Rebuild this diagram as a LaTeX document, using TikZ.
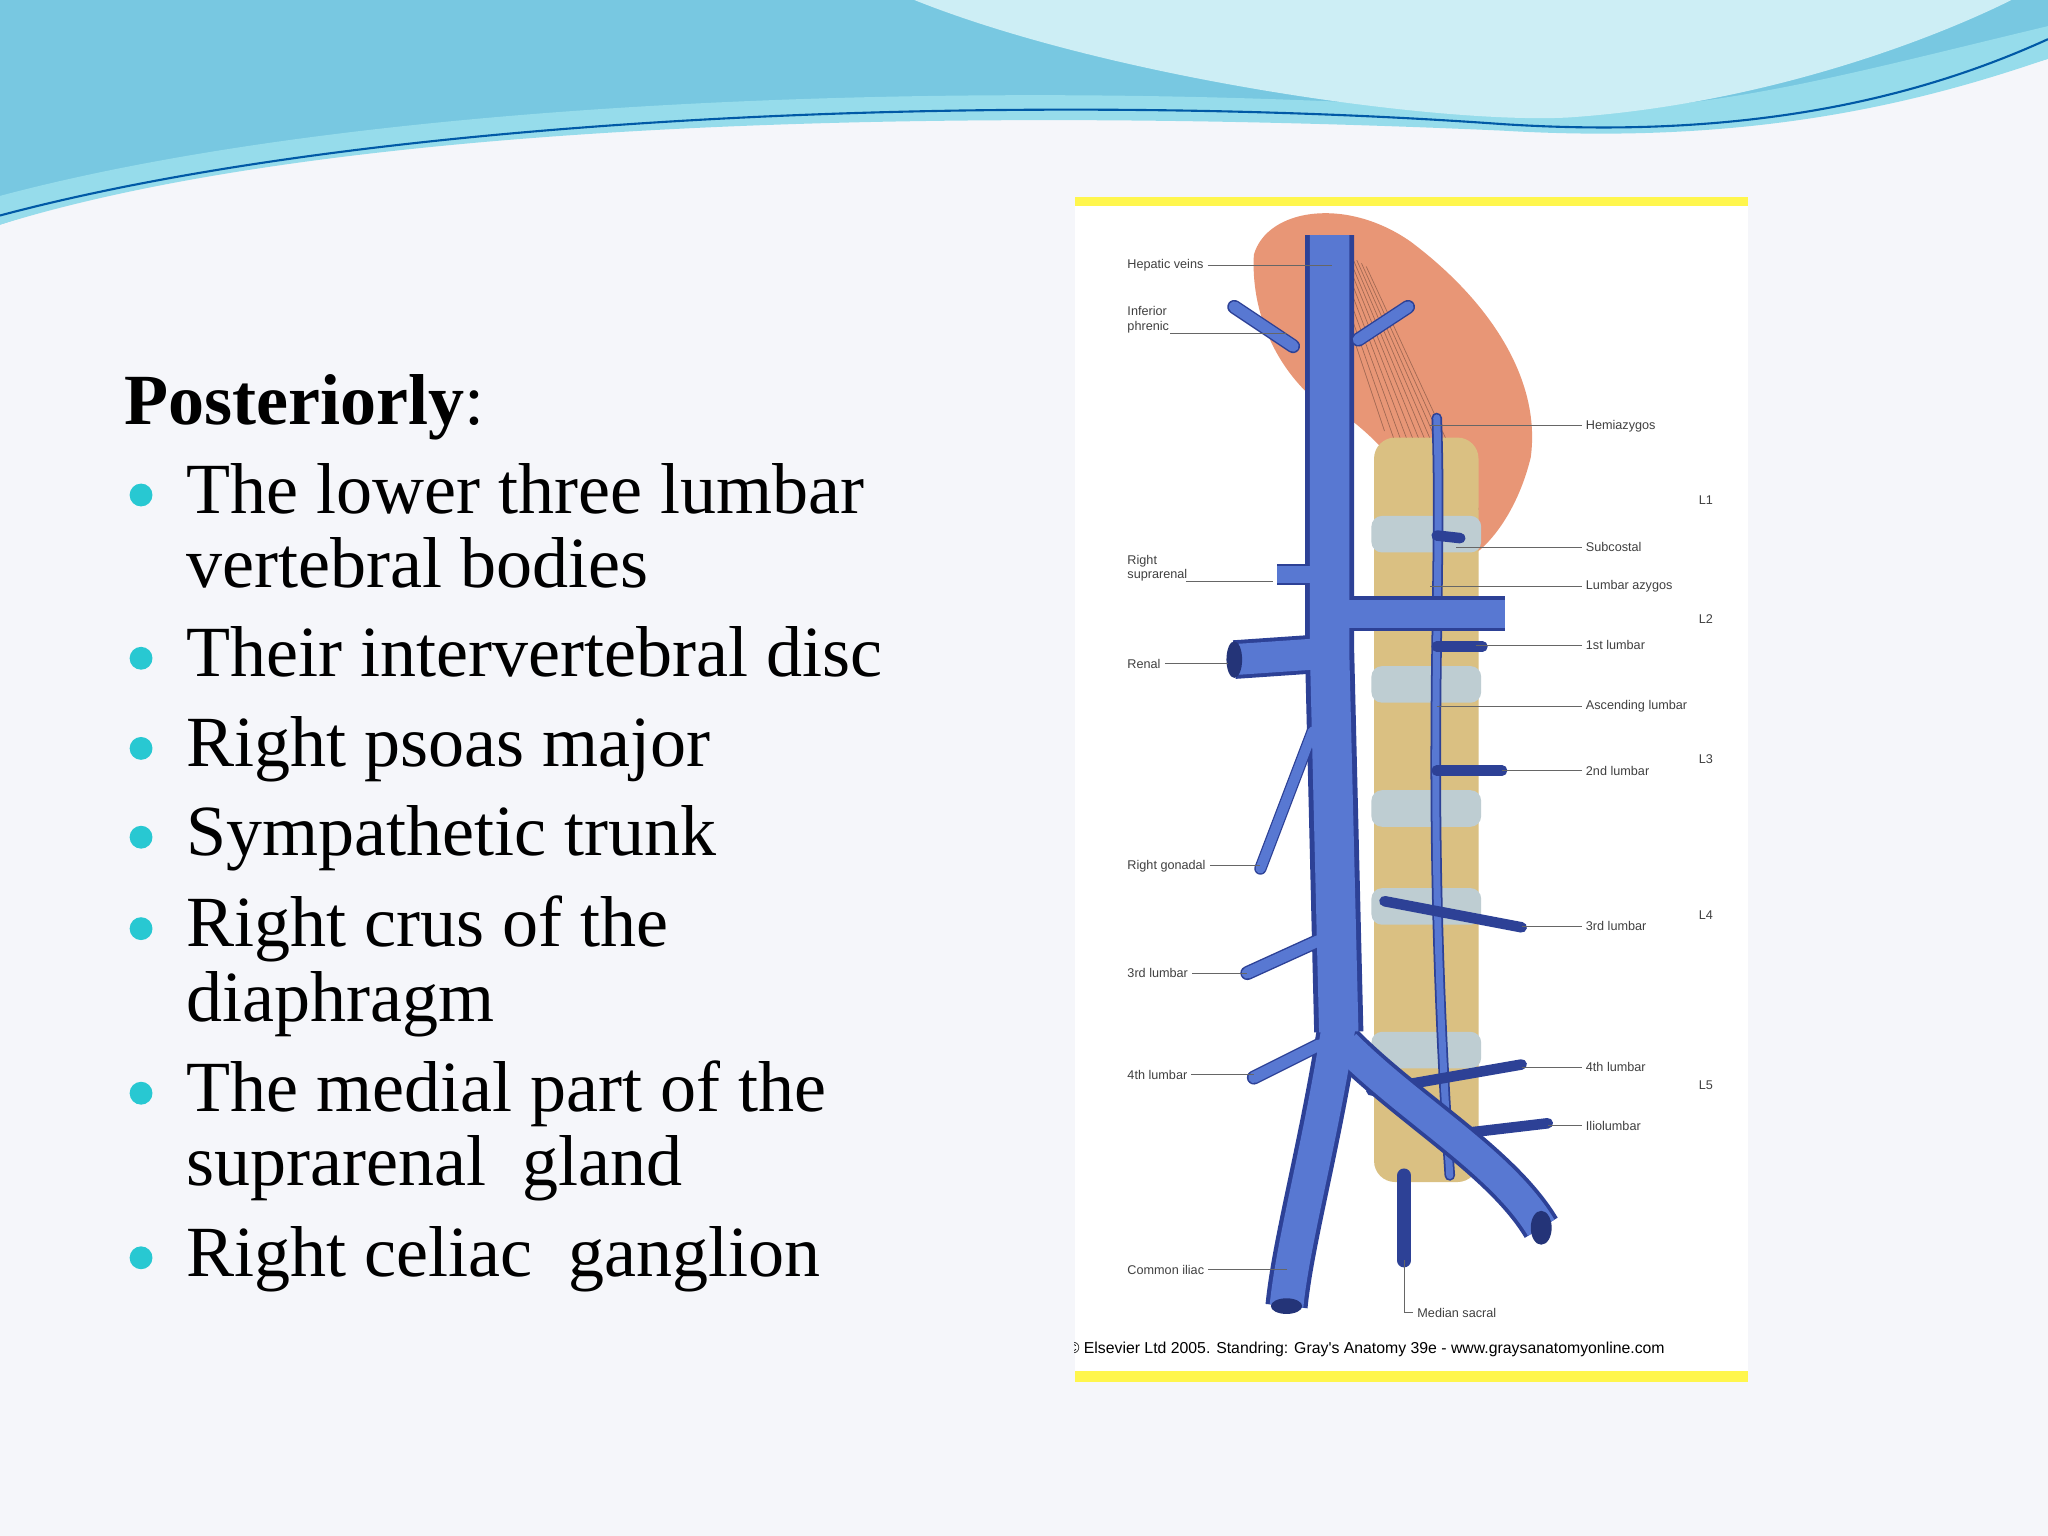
\documentclass[tikz,border=0pt]{standalone}
\usepackage{fontspec}
\setmainfont{Liberation Serif}
\newfontfamily\lab{Liberation Sans}
\begin{document}
\begin{tikzpicture}[x=0.01306cm,y=-0.01306cm,
  txt/.style={anchor=base west,inner sep=0,font=\fontsize{20.5}{22}\selectfont},
  bul/.style={circle,fill=bulc,inner sep=0,minimum size=6.5pt},
  lbl/.style={inner sep=1pt,font=\lab\fontsize{3.6}{4.2}\selectfont,text=black!75,align=left},
  lead/.style={black!60,line width=0.3pt},
  vout/.style={line width=#1,draw=veinD,line cap=round},
  vin/.style={line width=#1,draw=vein,line cap=round}]
\definecolor{bg}{RGB}{245,246,250}
\definecolor{bulc}{RGB}{40,200,210}
\definecolor{vein}{RGB}{88,120,210}
\definecolor{veinD}{RGB}{45,65,150}
\definecolor{musc}{RGB}{232,150,118}
\definecolor{bone}{RGB}{218,192,130}
\definecolor{disc}{RGB}{190,205,210}
\definecolor{waveA}{RGB}{120,200,225}
\definecolor{waveB}{RGB}{150,220,235}
\definecolor{waveC}{RGB}{205,238,245}
\useasboundingbox (0,0) rectangle (1568,1176);
\fill[bg] (0,0) rectangle (1568,1176);
% top wave
\fill[waveA] (0,0) -- (0,172) .. controls (250,90) and (700,60) .. (1150,95) .. controls (1350,110) and (1480,70) .. (1568,45) -- (1568,0) -- cycle;
\fill[waveB] (0,172) .. controls (250,95) and (700,80) .. (1150,100) .. controls (1350,112) and (1480,75) .. (1568,45) -- (1568,20) .. controls (1400,60) and (1300,90) .. (1150,85) .. controls (800,60) and (300,70) .. (0,150) -- cycle;
\fill[waveC] (700,0) .. controls (850,60) and (1100,95) .. (1200,90) .. controls (1350,80) and (1480,30) .. (1540,0) -- cycle;
\draw[teal!70!blue,line width=0.6pt] (0,165) .. controls (300,85) and (800,70) .. (1150,95) .. controls (1350,108) and (1480,70) .. (1568,30);
% text
\node[txt] (h) at (95,325) {\textbf{Posteriorly}:};
\foreach \y/\t [count=\i] in {393/The lower three lumbar,450/vertebral bodies,518/Their intervertebral disc,587/Right psoas major,655/Sympathetic trunk,725/Right crus of the,782/diaphragm,851/The medial part of the,908/suprarenal\ \ gland,977/Right celiac\ \ ganglion}
  \node[txt] (t\i) at (142,\y) {\t};
\foreach \y [count=\i] in {379,504,573,641,711,837,963}
  \node[bul] (b\i) at (108,\y) {};
% image frame
\fill[white] (823,151) rectangle (1338,1058);
\fill[yellow!70!white] (823,151) rectangle (1338,158);
\fill[yellow!70!white] (823,1050) rectangle (1338,1058);
% diaphragm
\fill[musc] (960,195) .. controls (970,160) and (1030,150) .. (1080,185) .. controls (1140,230) and (1180,290) .. (1172,350) .. controls (1160,400) and (1130,430) .. (1115,430) .. controls (1090,380) and (1060,330) .. (1000,300) .. controls (970,270) and (958,230) .. (960,195) -- cycle;
\foreach \a in {0,12,...,120} \draw[musc!70!black,line width=0.2pt] (1010+\a*0.3,180+\a*0.2) -- (1060+\a*0.6,330+\a*0.5);
% vertebrae
\fill[bone,rounded corners=6] (1052,335) rectangle (1132,905);
\foreach \y in {395,510,605,680,790} \fill[disc,rounded corners=3] (1050,\y) rectangle (1134,\y+28);
% small vessels
\draw[vout=3pt] (1100,320) .. controls (1105,450) and (1090,600) .. (1110,900);
\draw[vin=2pt] (1100,320) .. controls (1105,450) and (1090,600) .. (1110,900);
\draw[vout=3pt] (1060,690) -- (1165,710);
\draw[vout=3pt] (1050,835) -- (1165,815);
\draw[vout=3pt] (1100,870) -- (1185,860);
\draw[vout=3pt] (1100,590) -- (1150,590);
\draw[vout=3pt] (1100,495) -- (1135,495);
\draw[vout=3pt] (1100,410) -- (1118,412);
\draw[vout=4pt] (1075,900) -- (1075,965);
% IVC
\foreach \s/\c in {1/veinD,0.8/vein}{
 \draw[line width=\s*14pt,draw=\c,line join=round] (1018,180) -- (1018,500) -- (1025,790);
 \draw[line width=\s*12pt,draw=\c] (1025,785) .. controls (1010,880) and (990,950) .. (985,1000);
 \draw[line width=\s*11pt,draw=\c] (1030,800) .. controls (1080,850) and (1150,890) .. (1180,940);
 \draw[line width=\s*11pt,draw=\c] (945,505) -- (1018,500);
 \draw[line width=\s*10pt,draw=\c] (1018,470) -- (1152,470);
 \draw[line width=\s*6pt,draw=\c] (978,440) -- (1015,440);
 \draw[line width=\s*4pt,draw=\c,line cap=round] (945,235) -- (990,265);
 \draw[line width=\s*4pt,draw=\c,line cap=round] (1078,235) -- (1040,260);
 \draw[line width=\s*3.5pt,draw=\c,line cap=round] (1005,560) -- (965,665);
 \draw[line width=\s*4pt,draw=\c,line cap=round] (1010,720) -- (955,745);
 \draw[line width=\s*4pt,draw=\c,line cap=round] (1010,800) -- (960,825);
}
\fill[veinD!80!black] (985,1000) ellipse (12 and 6);
\fill[veinD!80!black] (1180,940) ellipse (8 and 13);
\fill[veinD!80!black] (945,505) ellipse (6 and 14);
% labels left
\node[lbl,anchor=west] (l1) at (860,203) {Hepatic veins};
\draw[lead] (l1.east) -- (1020,203);
\node[lbl,anchor=west] (l2) at (860,245) {Inferior\\phrenic};
\draw[lead] (896,255) -- (985,255);
\node[lbl,anchor=west] (l3) at (860,435) {Right\\suprarenal};
\draw[lead] (908,445) -- (975,445);
\node[lbl,anchor=west] (l4) at (860,508) {Renal};
\draw[lead] (l4.east) -- (940,508);
\node[lbl,anchor=west] (l5) at (860,663) {Right gonadal};
\draw[lead] (l5.east) -- (965,663);
\node[lbl,anchor=west] (l6) at (860,745) {3rd lumbar};
\draw[lead] (l6.east) -- (955,745);
\node[lbl,anchor=west] (l7) at (860,823) {4th lumbar};
\draw[lead] (l7.east) -- (960,823);
\node[lbl,anchor=west] (l8) at (860,972) {Common iliac};
\draw[lead] (l8.east) -- (985,972);
\node[lbl,anchor=west] (l9) at (1082,1005) {Median sacral};
\draw[lead] (1075,965) |- (l9.west);
% labels right
\foreach \y/\t/\x [count=\i] in {326/Hemiazygos/1095,419/Subcostal/1115,449/Lumbar azygos/1095,494/1st lumbar/1130,541/Ascending lumbar/1100,590/2nd lumbar/1150,709/3rd lumbar/1165,817/4th lumbar/1165,862/Iliolumbar/1185}{
 \node[lbl,anchor=west] (r\i) at (1211,\y) {\t};
 \draw[lead] (\x,\y) -- (r\i.west);}
\foreach \y/\t in {383/L1,474/L2,581/L3,701/L4,831/L5}
 \node[lbl] (v\t) at (1306,\y) {\t};
\begin{scope}
\clip (823,1015) rectangle (1338,1050);
\node[inner sep=0,anchor=west,font=\lab\fontsize{4.5}{5}\selectfont] (cap) at (817,1033) {\textcopyright{} Elsevier Ltd 2005. Standring: Gray's Anatomy 39e - www.graysanatomyonline.com};
\end{scope}
\end{tikzpicture}
\end{document}
